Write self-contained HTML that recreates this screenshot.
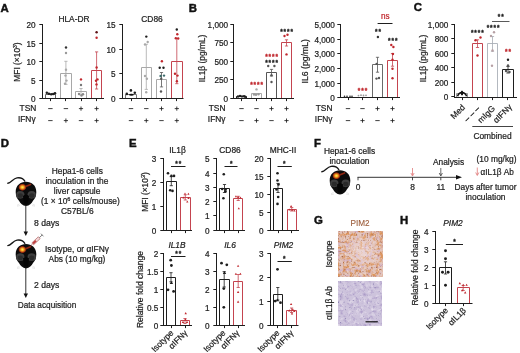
<!DOCTYPE html><html><head><meta charset="utf-8"><style>html,body{margin:0;padding:0;background:#fff;overflow:hidden;}svg{display:block;}#w{width:520px;height:353px;}</style></head><body><div id="w"><svg width="520" height="353" viewBox="0 0 520 353" font-family='"Liberation Sans", "DejaVu Sans", sans-serif' fill="#1e1e1e">
<defs><radialGradient id="spot" cx="0.5" cy="0.5" r="0.5"><stop offset="0" stop-color="#ffe858"/><stop offset="0.25" stop-color="#fcc430"/><stop offset="0.5" stop-color="#e07a1a"/><stop offset="0.8" stop-color="#8a200c"/><stop offset="1" stop-color="#300805" stop-opacity="0"/></radialGradient><filter id="ihc1" x="0" y="0" width="1" height="1" color-interpolation-filters="sRGB"><feFlood flood-color="#e2c4bc" result="base"/><feTurbulence type="fractalNoise" baseFrequency="0.3" numOctaves="3" seed="3" result="n1"/><feColorMatrix in="n1" type="matrix" values="0 0 0 0 0.86  0 0 0 0 0.58  0 0 0 0 0.36  3.4 0 0 0 -1.5" result="brown"/><feTurbulence type="fractalNoise" baseFrequency="0.22" numOctaves="2" seed="11" result="n2"/><feColorMatrix in="n2" type="matrix" values="0 0 0 0 0.80  0 0 0 0 0.67  0 0 0 0 0.80  3.2 0 0 0 -1.6" result="lav"/><feTurbulence type="fractalNoise" baseFrequency="0.55" numOctaves="1" seed="5" result="n3"/><feColorMatrix in="n3" type="matrix" values="0 0 0 0 0.64  0 0 0 0 0.38  0 0 0 0 0.26  5 0 0 0 -3.0" result="dark"/><feTurbulence type="fractalNoise" baseFrequency="0.45" numOctaves="1" seed="17" result="n4"/><feColorMatrix in="n4" type="matrix" values="0 0 0 0 0.95  0 0 0 0 0.85  0 0 0 0 0.80  5 0 0 0 -3.0" result="light"/><feMerge><feMergeNode in="base"/><feMergeNode in="lav"/><feMergeNode in="brown"/><feMergeNode in="light"/><feMergeNode in="dark"/></feMerge></filter><filter id="ihc2" x="0" y="0" width="1" height="1" color-interpolation-filters="sRGB"><feFlood flood-color="#cdc3dc" result="base"/><feTurbulence type="fractalNoise" baseFrequency="0.3" numOctaves="3" seed="7" result="n1"/><feColorMatrix in="n1" type="matrix" values="0 0 0 0 0.70  0 0 0 0 0.64  0 0 0 0 0.80  3 0 0 0 -1.5" result="d"/><feTurbulence type="fractalNoise" baseFrequency="0.25" numOctaves="2" seed="21" result="n2"/><feColorMatrix in="n2" type="matrix" values="0 0 0 0 0.89  0 0 0 0 0.86  0 0 0 0 0.92  3 0 0 0 -1.45" result="l"/><feTurbulence type="fractalNoise" baseFrequency="0.55" numOctaves="1" seed="9" result="n3"/><feColorMatrix in="n3" type="matrix" values="0 0 0 0 0.52  0 0 0 0 0.48  0 0 0 0 0.68  5 0 0 0 -3.2" result="k"/><feMerge><feMergeNode in="base"/><feMergeNode in="l"/><feMergeNode in="d"/><feMergeNode in="k"/></feMerge></filter><radialGradient id="pale" cx="0.55" cy="0.45" r="0.45"><stop offset="0" stop-color="#f4e6ea" stop-opacity="0.55"/><stop offset="1" stop-color="#f4e6ea" stop-opacity="0"/></radialGradient></defs>
<rect width="520" height="353" fill="#fff"/>
<text x="0.6" y="12.0" font-size="11.4" stroke="#111" stroke-width="0.45" fill="#111" font-weight="bold">A</text>
<text x="188.8" y="12.2" font-size="11.4" stroke="#111" stroke-width="0.45" fill="#111" font-weight="bold">B</text>
<text x="413.8" y="11.4" font-size="11.4" stroke="#111" stroke-width="0.45" fill="#111" font-weight="bold">C</text>
<text x="0.8" y="146.8" font-size="11.4" stroke="#111" stroke-width="0.45" fill="#111" font-weight="bold">D</text>
<text x="129" y="147" font-size="11.4" stroke="#111" stroke-width="0.45" fill="#111" font-weight="bold">E</text>
<text x="314" y="147" font-size="11.4" stroke="#111" stroke-width="0.45" fill="#111" font-weight="bold">F</text>
<text x="314" y="224.2" font-size="11.4" stroke="#111" stroke-width="0.45" fill="#111" font-weight="bold">G</text>
<text x="400" y="224.2" font-size="11.4" stroke="#111" stroke-width="0.45" fill="#111" font-weight="bold">H</text>
<text x="74" y="21.6" font-size="8.4" stroke="#1e1e1e" stroke-width="0.22" text-anchor="middle">HLA-DR</text>
<line x1="42.5" y1="24.0" x2="42.5" y2="98.5" stroke="#1e1e1e" stroke-width="1.0"/>
<line x1="39.3" y1="24.5" x2="42.5" y2="24.5" stroke="#1e1e1e" stroke-width="1.0"/>
<text x="35.5" y="28.151999999999997" font-size="8.2" stroke="#1e1e1e" stroke-width="0.22" text-anchor="end">20</text>
<line x1="39.3" y1="43.5" x2="42.5" y2="43.5" stroke="#1e1e1e" stroke-width="1.0"/>
<text x="35.5" y="47.152" font-size="8.2" stroke="#1e1e1e" stroke-width="0.22" text-anchor="end">15</text>
<line x1="39.3" y1="61.5" x2="42.5" y2="61.5" stroke="#1e1e1e" stroke-width="1.0"/>
<text x="35.5" y="65.152" font-size="8.2" stroke="#1e1e1e" stroke-width="0.22" text-anchor="end">10</text>
<line x1="39.3" y1="80.5" x2="42.5" y2="80.5" stroke="#1e1e1e" stroke-width="1.0"/>
<text x="35.5" y="84.152" font-size="8.2" stroke="#1e1e1e" stroke-width="0.22" text-anchor="end">5</text>
<line x1="39.3" y1="98.5" x2="42.5" y2="98.5" stroke="#1e1e1e" stroke-width="1.0"/>
<text x="35.5" y="102.152" font-size="8.2" stroke="#1e1e1e" stroke-width="0.22" text-anchor="end">0</text>
<line x1="42.0" y1="98.5" x2="104" y2="98.5" stroke="#1e1e1e" stroke-width="1.0"/>
<line x1="50.5" y1="98.5" x2="50.5" y2="101.1" stroke="#1e1e1e" stroke-width="1.0"/>
<line x1="65.5" y1="98.5" x2="65.5" y2="101.1" stroke="#1e1e1e" stroke-width="1.0"/>
<line x1="81.5" y1="98.5" x2="81.5" y2="101.1" stroke="#1e1e1e" stroke-width="1.0"/>
<line x1="96.5" y1="98.5" x2="96.5" y2="101.1" stroke="#1e1e1e" stroke-width="1.0"/>
<text x="20.2" y="62" font-size="8.4" stroke="#1e1e1e" stroke-width="0.22" text-anchor="middle" transform="rotate(-90 20.2 62)">MFI (×10<tspan font-size="5" dy="-3">3</tspan><tspan dy="3">)</tspan></text>
<rect x="45.5" y="94.5" width="10.0" height="3.5" fill="#fff"/>
<path d="M45.5 98.0V94.5H55.5V98.0" fill="none" stroke="#666" stroke-width="1.0"/>
<circle cx="46.8" cy="92.8" r="1.25" fill="#1e1e1e"/>
<circle cx="48.9" cy="93.7" r="1.25" fill="#1e1e1e"/>
<circle cx="51.2" cy="94.3" r="1.25" fill="#1e1e1e"/>
<circle cx="53.2" cy="94.1" r="1.25" fill="#1e1e1e"/>
<circle cx="55.0" cy="93.2" r="1.25" fill="#1e1e1e"/>
<rect x="60.5" y="73.5" width="11.0" height="24.5" fill="#fff"/>
<path d="M60.5 98.0V73.5H71.5V98.0" fill="none" stroke="#a8a8a8" stroke-width="1.0"/>
<line x1="65.9" y1="61.3" x2="65.9" y2="84.4" stroke="#a8a8a8" stroke-width="0.8"/>
<line x1="64.30000000000001" y1="61.3" x2="67.5" y2="61.3" stroke="#a8a8a8" stroke-width="0.8"/>
<line x1="64.30000000000001" y1="84.4" x2="67.5" y2="84.4" stroke="#a8a8a8" stroke-width="0.8"/>
<circle cx="66" cy="47.5" r="1.2" fill="#333"/>
<circle cx="66" cy="53" r="1.2" fill="#999"/>
<circle cx="66" cy="69.8" r="1.2" fill="#a8a8a8"/>
<circle cx="65.5" cy="75.6" r="1.2" fill="#a8a8a8"/>
<circle cx="66.5" cy="80.6" r="1.2" fill="#a8a8a8"/>
<circle cx="65" cy="83.8" r="1.2" fill="#a8a8a8"/>
<rect x="75.5" y="91.5" width="11.0" height="6.5" fill="#fff"/>
<path d="M75.5 98.0V91.5H86.5V98.0" fill="none" stroke="#a8a8a8" stroke-width="1.0"/>
<line x1="81" y1="88.5" x2="81" y2="95" stroke="#a8a8a8" stroke-width="0.8"/>
<line x1="79.4" y1="88.5" x2="82.6" y2="88.5" stroke="#a8a8a8" stroke-width="0.8"/>
<line x1="79.4" y1="95" x2="82.6" y2="95" stroke="#a8a8a8" stroke-width="0.8"/>
<circle cx="81" cy="79.4" r="1.2" fill="#c0272d"/>
<circle cx="81" cy="85" r="1.2" fill="#777"/>
<circle cx="79" cy="94" r="1.2" fill="#888"/>
<circle cx="81.5" cy="95.5" r="1.2" fill="#888"/>
<circle cx="83" cy="94.3" r="1.2" fill="#888"/>
<rect x="91.5" y="70.5" width="10.0" height="27.5" fill="#fff"/>
<path d="M91.5 98.0V70.5H101.5V98.0" fill="none" stroke="#c4444f" stroke-width="1.0"/>
<line x1="96.6" y1="51.9" x2="96.6" y2="89" stroke="#c4444f" stroke-width="0.8"/>
<line x1="95.0" y1="51.9" x2="98.19999999999999" y2="51.9" stroke="#c4444f" stroke-width="0.8"/>
<line x1="95.0" y1="89" x2="98.19999999999999" y2="89" stroke="#c4444f" stroke-width="0.8"/>
<circle cx="96.6" cy="32.3" r="1.2" fill="#5a1014"/>
<circle cx="96.6" cy="37.8" r="1.2" fill="#c0272d"/>
<circle cx="96.6" cy="67.5" r="1.2" fill="#c0272d"/>
<circle cx="97.5" cy="79.4" r="1.2" fill="#c0272d"/>
<circle cx="96" cy="80.8" r="1.2" fill="#c0272d"/>
<circle cx="96.5" cy="84.4" r="1.2" fill="#c0272d"/>
<text x="152" y="21.6" font-size="8.4" stroke="#1e1e1e" stroke-width="0.22" text-anchor="middle">CD86</text>
<line x1="122.5" y1="24.0" x2="122.5" y2="98.5" stroke="#1e1e1e" stroke-width="1.0"/>
<line x1="119.3" y1="24.5" x2="122.5" y2="24.5" stroke="#1e1e1e" stroke-width="1.0"/>
<text x="115.5" y="28.151999999999997" font-size="8.2" stroke="#1e1e1e" stroke-width="0.22" text-anchor="end">15</text>
<line x1="119.3" y1="49.5" x2="122.5" y2="49.5" stroke="#1e1e1e" stroke-width="1.0"/>
<text x="115.5" y="53.152" font-size="8.2" stroke="#1e1e1e" stroke-width="0.22" text-anchor="end">10</text>
<line x1="119.3" y1="73.5" x2="122.5" y2="73.5" stroke="#1e1e1e" stroke-width="1.0"/>
<text x="115.5" y="77.152" font-size="8.2" stroke="#1e1e1e" stroke-width="0.22" text-anchor="end">5</text>
<line x1="119.3" y1="98.5" x2="122.5" y2="98.5" stroke="#1e1e1e" stroke-width="1.0"/>
<text x="115.5" y="102.152" font-size="8.2" stroke="#1e1e1e" stroke-width="0.22" text-anchor="end">0</text>
<line x1="122.0" y1="98.5" x2="183.5" y2="98.5" stroke="#1e1e1e" stroke-width="1.0"/>
<line x1="131.5" y1="98.5" x2="131.5" y2="101.1" stroke="#1e1e1e" stroke-width="1.0"/>
<line x1="146.5" y1="98.5" x2="146.5" y2="101.1" stroke="#1e1e1e" stroke-width="1.0"/>
<line x1="161.5" y1="98.5" x2="161.5" y2="101.1" stroke="#1e1e1e" stroke-width="1.0"/>
<line x1="176.5" y1="98.5" x2="176.5" y2="101.1" stroke="#1e1e1e" stroke-width="1.0"/>
<rect x="125.5" y="94.5" width="11.0" height="3.5" fill="#fff"/>
<path d="M125.5 98.0V94.5H136.5V98.0" fill="none" stroke="#777" stroke-width="1.0"/>
<circle cx="130.9" cy="90.4" r="1.3" fill="#1e1e1e"/>
<circle cx="126.8" cy="93.9" r="1.3" fill="#1e1e1e"/>
<circle cx="134.8" cy="92.7" r="1.3" fill="#1e1e1e"/>
<ellipse cx="131.4" cy="94.8" rx="2.4" ry="1.0" fill="#111"/>
<rect x="141.5" y="67.5" width="10.0" height="30.5" fill="#fff"/>
<path d="M141.5 98.0V67.5H151.5V98.0" fill="none" stroke="#a8a8a8" stroke-width="1.0"/>
<line x1="146.3" y1="44.3" x2="146.3" y2="89.4" stroke="#a8a8a8" stroke-width="0.8"/>
<line x1="144.70000000000002" y1="44.3" x2="147.9" y2="44.3" stroke="#a8a8a8" stroke-width="0.8"/>
<line x1="144.70000000000002" y1="89.4" x2="147.9" y2="89.4" stroke="#a8a8a8" stroke-width="0.8"/>
<circle cx="146.3" cy="36.6" r="1.2" fill="#1e1e1e"/>
<circle cx="147.7" cy="42" r="1.2" fill="#a8a8a8"/>
<circle cx="145" cy="44.5" r="1.2" fill="#a8a8a8"/>
<circle cx="145" cy="76" r="1.2" fill="#a8a8a8"/>
<circle cx="146.9" cy="78.7" r="1.2" fill="#a8a8a8"/>
<circle cx="146.2" cy="92.2" r="1.2" fill="#a8a8a8"/>
<rect x="156.5" y="79.5" width="10.0" height="18.5" fill="#fff"/>
<path d="M156.5 98.0V79.5H166.5V98.0" fill="none" stroke="#a8a8a8" stroke-width="1.0"/>
<line x1="161.5" y1="72.5" x2="161.5" y2="86.9" stroke="#555555" stroke-width="0.8"/>
<line x1="159.9" y1="72.5" x2="163.1" y2="72.5" stroke="#555555" stroke-width="0.8"/>
<line x1="159.9" y1="86.9" x2="163.1" y2="86.9" stroke="#555555" stroke-width="0.8"/>
<circle cx="161.9" cy="61.3" r="1.2" fill="#c0272d"/>
<circle cx="159.7" cy="67.7" r="1.2" fill="#1e1e1e"/>
<circle cx="163.5" cy="67.7" r="1.2" fill="#1e1e1e"/>
<circle cx="160.6" cy="76" r="1.2" fill="#3a6a6a"/>
<circle cx="164" cy="75.6" r="1.2" fill="#3a6a6a"/>
<circle cx="161.2" cy="78.7" r="1.2" fill="#555555"/>
<circle cx="161" cy="91.5" r="1.2" fill="#555555"/>
<rect x="171.5" y="61.5" width="11.0" height="36.5" fill="#fff"/>
<path d="M171.5 98.0V61.5H182.5V98.0" fill="none" stroke="#c4444f" stroke-width="1.0"/>
<line x1="176.8" y1="38.3" x2="176.8" y2="83.7" stroke="#c4444f" stroke-width="0.8"/>
<line x1="175.20000000000002" y1="38.3" x2="178.4" y2="38.3" stroke="#c4444f" stroke-width="0.8"/>
<line x1="175.20000000000002" y1="83.7" x2="178.4" y2="83.7" stroke="#c4444f" stroke-width="0.8"/>
<circle cx="176.8" cy="29.5" r="1.2" fill="#1e1e1e"/>
<circle cx="177.3" cy="34.2" r="1.2" fill="#c0272d"/>
<circle cx="175.8" cy="38.2" r="1.2" fill="#c0272d"/>
<circle cx="178.2" cy="38.5" r="1.2" fill="#c0272d"/>
<circle cx="175" cy="73.7" r="1.2" fill="#c0272d"/>
<circle cx="177.5" cy="75.6" r="1.2" fill="#c0272d"/>
<circle cx="176.9" cy="81.2" r="1.2" fill="#c0272d"/>
<text x="19.6" y="111" font-size="8.4" stroke="#1e1e1e" stroke-width="0.22">TSN</text>
<text x="17.9" y="121.8" font-size="8.4" stroke="#1e1e1e" stroke-width="0.22">IFNγ</text>
<line x1="48.199999999999996" y1="108.6" x2="52.6" y2="108.6" stroke="#1e1e1e" stroke-width="0.85"/>
<line x1="63.7" y1="108.6" x2="68.10000000000001" y2="108.6" stroke="#1e1e1e" stroke-width="0.85"/>
<line x1="78.9" y1="108.6" x2="83.1" y2="108.6" stroke="#1e1e1e" stroke-width="0.85"/>
<line x1="81" y1="106.5" x2="81" y2="110.69999999999999" stroke="#1e1e1e" stroke-width="0.85"/>
<line x1="94.5" y1="108.6" x2="98.69999999999999" y2="108.6" stroke="#1e1e1e" stroke-width="0.85"/>
<line x1="96.6" y1="106.5" x2="96.6" y2="110.69999999999999" stroke="#1e1e1e" stroke-width="0.85"/>
<line x1="48.199999999999996" y1="120.6" x2="52.6" y2="120.6" stroke="#1e1e1e" stroke-width="0.85"/>
<line x1="63.800000000000004" y1="120.6" x2="68.0" y2="120.6" stroke="#1e1e1e" stroke-width="0.85"/>
<line x1="65.9" y1="118.5" x2="65.9" y2="122.69999999999999" stroke="#1e1e1e" stroke-width="0.85"/>
<line x1="78.8" y1="120.6" x2="83.2" y2="120.6" stroke="#1e1e1e" stroke-width="0.85"/>
<line x1="94.5" y1="120.6" x2="98.69999999999999" y2="120.6" stroke="#1e1e1e" stroke-width="0.85"/>
<line x1="96.6" y1="118.5" x2="96.6" y2="122.69999999999999" stroke="#1e1e1e" stroke-width="0.85"/>
<line x1="128.8" y1="108.6" x2="133.2" y2="108.6" stroke="#1e1e1e" stroke-width="0.85"/>
<line x1="144.10000000000002" y1="108.6" x2="148.5" y2="108.6" stroke="#1e1e1e" stroke-width="0.85"/>
<line x1="159.4" y1="108.6" x2="163.6" y2="108.6" stroke="#1e1e1e" stroke-width="0.85"/>
<line x1="161.5" y1="106.5" x2="161.5" y2="110.69999999999999" stroke="#1e1e1e" stroke-width="0.85"/>
<line x1="174.70000000000002" y1="108.6" x2="178.9" y2="108.6" stroke="#1e1e1e" stroke-width="0.85"/>
<line x1="176.8" y1="106.5" x2="176.8" y2="110.69999999999999" stroke="#1e1e1e" stroke-width="0.85"/>
<line x1="128.8" y1="120.6" x2="133.2" y2="120.6" stroke="#1e1e1e" stroke-width="0.85"/>
<line x1="144.20000000000002" y1="120.6" x2="148.4" y2="120.6" stroke="#1e1e1e" stroke-width="0.85"/>
<line x1="146.3" y1="118.5" x2="146.3" y2="122.69999999999999" stroke="#1e1e1e" stroke-width="0.85"/>
<line x1="159.3" y1="120.6" x2="163.7" y2="120.6" stroke="#1e1e1e" stroke-width="0.85"/>
<line x1="174.70000000000002" y1="120.6" x2="178.9" y2="120.6" stroke="#1e1e1e" stroke-width="0.85"/>
<line x1="176.8" y1="118.5" x2="176.8" y2="122.69999999999999" stroke="#1e1e1e" stroke-width="0.85"/>
<text x="205.2" y="58.5" font-size="8.4" stroke="#1e1e1e" stroke-width="0.22" text-anchor="middle" transform="rotate(-90 205.2 58.5)">IL1β (pg/mL)</text>
<line x1="233.5" y1="24.0" x2="233.5" y2="98.5" stroke="#1e1e1e" stroke-width="1.0"/>
<line x1="230.3" y1="24.5" x2="233.5" y2="24.5" stroke="#1e1e1e" stroke-width="1.0"/>
<text x="228.1" y="28.151999999999997" font-size="8.2" stroke="#1e1e1e" stroke-width="0.22" text-anchor="end">1,000</text>
<line x1="230.3" y1="42.5" x2="233.5" y2="42.5" stroke="#1e1e1e" stroke-width="1.0"/>
<text x="228.1" y="46.152" font-size="8.2" stroke="#1e1e1e" stroke-width="0.22" text-anchor="end">750</text>
<line x1="230.3" y1="61.5" x2="233.5" y2="61.5" stroke="#1e1e1e" stroke-width="1.0"/>
<text x="228.1" y="65.152" font-size="8.2" stroke="#1e1e1e" stroke-width="0.22" text-anchor="end">500</text>
<line x1="230.3" y1="79.5" x2="233.5" y2="79.5" stroke="#1e1e1e" stroke-width="1.0"/>
<text x="228.1" y="83.152" font-size="8.2" stroke="#1e1e1e" stroke-width="0.22" text-anchor="end">250</text>
<line x1="230.3" y1="98.5" x2="233.5" y2="98.5" stroke="#1e1e1e" stroke-width="1.0"/>
<text x="228.1" y="102.152" font-size="8.2" stroke="#1e1e1e" stroke-width="0.22" text-anchor="end">0</text>
<line x1="233.0" y1="98.5" x2="294" y2="98.5" stroke="#1e1e1e" stroke-width="1.0"/>
<line x1="241.5" y1="98.5" x2="241.5" y2="101.1" stroke="#1e1e1e" stroke-width="1.0"/>
<line x1="256.5" y1="98.5" x2="256.5" y2="101.1" stroke="#1e1e1e" stroke-width="1.0"/>
<line x1="271.5" y1="98.5" x2="271.5" y2="101.1" stroke="#1e1e1e" stroke-width="1.0"/>
<line x1="286.5" y1="98.5" x2="286.5" y2="101.1" stroke="#1e1e1e" stroke-width="1.0"/>
<rect x="236.5" y="96.5" width="10.0" height="1.5" fill="#fff"/>
<path d="M236.5 98.0V96.5H246.5V98.0" fill="none" stroke="#1e1e1e" stroke-width="1.0"/>
<circle cx="238" cy="96.5" r="1.2" fill="#1e1e1e"/>
<circle cx="240" cy="96" r="1.2" fill="#1e1e1e"/>
<circle cx="242" cy="96.4" r="1.2" fill="#1e1e1e"/>
<circle cx="244" cy="96.2" r="1.2" fill="#1e1e1e"/>
<circle cx="245.2" cy="96.8" r="1.2" fill="#1e1e1e"/>
<rect x="251.5" y="93.5" width="10.0" height="4.5" fill="#fff"/>
<path d="M251.5 98.0V93.5H261.5V98.0" fill="none" stroke="#a8a8a8" stroke-width="1.0"/>
<circle cx="256.5" cy="89.4" r="1.2" fill="#a8a8a8"/>
<circle cx="254" cy="94.5" r="1.2" fill="#999"/>
<circle cx="256" cy="94.8" r="1.2" fill="#999"/>
<circle cx="258.5" cy="94.2" r="1.2" fill="#999"/>
<text x="257.0" y="87.312" font-size="6.4" stroke="#c0272d" stroke-width="0.3" text-anchor="middle" fill="#c0272d" font-weight="bold" letter-spacing="0.95">****</text>
<rect x="266.5" y="72.5" width="10.0" height="25.5" fill="#fff"/>
<path d="M266.5 98.0V72.5H276.5V98.0" fill="none" stroke="#555555" stroke-width="1.0"/>
<line x1="271.5" y1="69.4" x2="271.5" y2="76" stroke="#555555" stroke-width="0.8"/>
<line x1="269.9" y1="69.4" x2="273.1" y2="69.4" stroke="#555555" stroke-width="0.8"/>
<line x1="269.9" y1="76" x2="273.1" y2="76" stroke="#555555" stroke-width="0.8"/>
<circle cx="268.2" cy="66" r="1.2" fill="#555555"/>
<circle cx="274.4" cy="66" r="1.2" fill="#555555"/>
<circle cx="271.5" cy="75.3" r="1.2" fill="#555555"/>
<circle cx="271.5" cy="82" r="1.2" fill="#555555"/>
<text x="272.0" y="58.812" font-size="6.4" stroke="#c0272d" stroke-width="0.3" text-anchor="middle" fill="#c0272d" font-weight="bold" letter-spacing="0.95">****</text>
<text x="272.0" y="65.012" font-size="6.4" stroke="#1e1e1e" stroke-width="0.3" text-anchor="middle" font-weight="bold" letter-spacing="0.95">****</text>
<rect x="281.5" y="42.5" width="10.0" height="55.5" fill="#fff"/>
<path d="M281.5 98.0V42.5H291.5V98.0" fill="none" stroke="#c4444f" stroke-width="1.0"/>
<line x1="286.5" y1="39.8" x2="286.5" y2="46" stroke="#c4444f" stroke-width="0.8"/>
<line x1="284.9" y1="39.8" x2="288.1" y2="39.8" stroke="#c4444f" stroke-width="0.8"/>
<line x1="284.9" y1="46" x2="288.1" y2="46" stroke="#c4444f" stroke-width="0.8"/>
<circle cx="284.5" cy="36" r="1.2" fill="#c0272d"/>
<circle cx="287.5" cy="34.8" r="1.2" fill="#c0272d"/>
<circle cx="286.5" cy="54.4" r="1.2" fill="#c0272d"/>
<text x="287.0" y="33.712" font-size="6.4" stroke="#1e1e1e" stroke-width="0.3" text-anchor="middle" font-weight="bold" letter-spacing="0.95">****</text>
<text x="225.5" y="111" font-size="8.4" stroke="#1e1e1e" stroke-width="0.22" text-anchor="end">TSN</text>
<text x="225.5" y="121.8" font-size="8.4" stroke="#1e1e1e" stroke-width="0.22" text-anchor="end">IFNγ</text>
<line x1="239.3" y1="108.6" x2="243.7" y2="108.6" stroke="#1e1e1e" stroke-width="0.85"/>
<line x1="254.3" y1="108.6" x2="258.7" y2="108.6" stroke="#1e1e1e" stroke-width="0.85"/>
<line x1="269.4" y1="108.6" x2="273.6" y2="108.6" stroke="#1e1e1e" stroke-width="0.85"/>
<line x1="271.5" y1="106.5" x2="271.5" y2="110.69999999999999" stroke="#1e1e1e" stroke-width="0.85"/>
<line x1="284.4" y1="108.6" x2="288.6" y2="108.6" stroke="#1e1e1e" stroke-width="0.85"/>
<line x1="286.5" y1="106.5" x2="286.5" y2="110.69999999999999" stroke="#1e1e1e" stroke-width="0.85"/>
<line x1="239.3" y1="120.6" x2="243.7" y2="120.6" stroke="#1e1e1e" stroke-width="0.85"/>
<line x1="254.4" y1="120.6" x2="258.6" y2="120.6" stroke="#1e1e1e" stroke-width="0.85"/>
<line x1="256.5" y1="118.5" x2="256.5" y2="122.69999999999999" stroke="#1e1e1e" stroke-width="0.85"/>
<line x1="269.3" y1="120.6" x2="273.7" y2="120.6" stroke="#1e1e1e" stroke-width="0.85"/>
<line x1="284.4" y1="120.6" x2="288.6" y2="120.6" stroke="#1e1e1e" stroke-width="0.85"/>
<line x1="286.5" y1="118.5" x2="286.5" y2="122.69999999999999" stroke="#1e1e1e" stroke-width="0.85"/>
<text x="308.3" y="61.2" font-size="8.7" stroke="#1e1e1e" stroke-width="0.22" text-anchor="middle" transform="rotate(-90 308.3 61.2)">IL6 (pg/mL)</text>
<line x1="340.5" y1="24.0" x2="340.5" y2="97.5" stroke="#1e1e1e" stroke-width="1.0"/>
<line x1="337.3" y1="24.5" x2="340.5" y2="24.5" stroke="#1e1e1e" stroke-width="1.0"/>
<text x="334.9" y="28.151999999999997" font-size="8.2" stroke="#1e1e1e" stroke-width="0.22" text-anchor="end">5,000</text>
<line x1="337.3" y1="39.5" x2="340.5" y2="39.5" stroke="#1e1e1e" stroke-width="1.0"/>
<text x="334.9" y="43.152" font-size="8.2" stroke="#1e1e1e" stroke-width="0.22" text-anchor="end">4,000</text>
<line x1="337.3" y1="53.5" x2="340.5" y2="53.5" stroke="#1e1e1e" stroke-width="1.0"/>
<text x="334.9" y="57.152" font-size="8.2" stroke="#1e1e1e" stroke-width="0.22" text-anchor="end">3,000</text>
<line x1="337.3" y1="68.5" x2="340.5" y2="68.5" stroke="#1e1e1e" stroke-width="1.0"/>
<text x="334.9" y="72.152" font-size="8.2" stroke="#1e1e1e" stroke-width="0.22" text-anchor="end">2,000</text>
<line x1="337.3" y1="83.5" x2="340.5" y2="83.5" stroke="#1e1e1e" stroke-width="1.0"/>
<text x="334.9" y="87.152" font-size="8.2" stroke="#1e1e1e" stroke-width="0.22" text-anchor="end">1,000</text>
<line x1="337.3" y1="97.5" x2="340.5" y2="97.5" stroke="#1e1e1e" stroke-width="1.0"/>
<text x="334.9" y="101.152" font-size="8.2" stroke="#1e1e1e" stroke-width="0.22" text-anchor="end">0</text>
<line x1="340.0" y1="97.5" x2="400" y2="97.5" stroke="#1e1e1e" stroke-width="1.0"/>
<line x1="348.5" y1="97.5" x2="348.5" y2="100.1" stroke="#1e1e1e" stroke-width="1.0"/>
<line x1="362.5" y1="97.5" x2="362.5" y2="100.1" stroke="#1e1e1e" stroke-width="1.0"/>
<line x1="377.5" y1="97.5" x2="377.5" y2="100.1" stroke="#1e1e1e" stroke-width="1.0"/>
<line x1="392.5" y1="97.5" x2="392.5" y2="100.1" stroke="#1e1e1e" stroke-width="1.0"/>
<circle cx="344.5" cy="96.2" r="0.8" fill="#1e1e1e"/>
<circle cx="347" cy="96.3" r="0.8" fill="#1e1e1e"/>
<circle cx="350" cy="96.2" r="0.8" fill="#1e1e1e"/>
<circle cx="352" cy="96.3" r="0.8" fill="#1e1e1e"/>
<circle cx="358.5" cy="95.6" r="0.9" fill="#999"/>
<circle cx="361" cy="95.2" r="0.9" fill="#999"/>
<circle cx="363.5" cy="95.5" r="0.9" fill="#999"/>
<circle cx="366" cy="95.3" r="0.9" fill="#999"/>
<text x="363.0" y="93.312" font-size="6.4" stroke="#c0272d" stroke-width="0.3" text-anchor="middle" fill="#c0272d" font-weight="bold" letter-spacing="0.95">***</text>
<rect x="372.5" y="64.5" width="10.0" height="32.5" fill="#fff"/>
<path d="M372.5 97.0V64.5H382.5V97.0" fill="none" stroke="#6a6a6a" stroke-width="1.0"/>
<line x1="377.5" y1="57.3" x2="377.5" y2="72.2" stroke="#555" stroke-width="0.8"/>
<line x1="375.9" y1="57.3" x2="379.1" y2="57.3" stroke="#555" stroke-width="0.8"/>
<line x1="375.9" y1="72.2" x2="379.1" y2="72.2" stroke="#555" stroke-width="0.8"/>
<circle cx="377.9" cy="37" r="1.2" fill="#333"/>
<circle cx="376.6" cy="63.9" r="1.2" fill="#555555"/>
<circle cx="376.5" cy="78.6" r="1.2" fill="#555555"/>
<circle cx="379" cy="78" r="1.2" fill="#555555"/>
<text x="378.5" y="33.512" font-size="6.4" stroke="#1e1e1e" stroke-width="0.3" text-anchor="middle" font-weight="bold" letter-spacing="0.95">**</text>
<rect x="387.5" y="60.5" width="10.0" height="36.5" fill="#fff"/>
<path d="M387.5 97.0V60.5H397.5V97.0" fill="none" stroke="#c4444f" stroke-width="1.0"/>
<line x1="392.5" y1="53.5" x2="392.5" y2="66.2" stroke="#c4444f" stroke-width="0.8"/>
<line x1="390.9" y1="53.5" x2="394.1" y2="53.5" stroke="#c4444f" stroke-width="0.8"/>
<line x1="390.9" y1="66.2" x2="394.1" y2="66.2" stroke="#c4444f" stroke-width="0.8"/>
<circle cx="391.3" cy="45" r="1.2" fill="#c0272d"/>
<circle cx="393.4" cy="47" r="1.2" fill="#c0272d"/>
<circle cx="392.9" cy="54" r="1.2" fill="#c0272d"/>
<circle cx="392.5" cy="59.8" r="1.2" fill="#c0272d"/>
<circle cx="392.5" cy="68.8" r="1.2" fill="#c0272d"/>
<circle cx="392.5" cy="78.3" r="1.2" fill="#c0272d"/>
<text x="393.2" y="43.412000000000006" font-size="6.4" stroke="#1e1e1e" stroke-width="0.3" text-anchor="middle" font-weight="bold" letter-spacing="0.95">***</text>
<line x1="377.6" y1="23.5" x2="392.5" y2="23.5" stroke="#1e1e1e" stroke-width="1.0"/>
<text x="385.3" y="19.1" font-size="8.2" stroke="#c0272d" stroke-width="0.22" text-anchor="middle" fill="#c0272d">ns</text>
<text x="332.5" y="111" font-size="8.4" stroke="#1e1e1e" stroke-width="0.22" text-anchor="end">TSN</text>
<text x="332.5" y="121.8" font-size="8.4" stroke="#1e1e1e" stroke-width="0.22" text-anchor="end">IFNγ</text>
<line x1="345.8" y1="108.6" x2="350.2" y2="108.6" stroke="#1e1e1e" stroke-width="0.85"/>
<line x1="360.3" y1="108.6" x2="364.7" y2="108.6" stroke="#1e1e1e" stroke-width="0.85"/>
<line x1="375.4" y1="108.6" x2="379.6" y2="108.6" stroke="#1e1e1e" stroke-width="0.85"/>
<line x1="377.5" y1="106.5" x2="377.5" y2="110.69999999999999" stroke="#1e1e1e" stroke-width="0.85"/>
<line x1="390.4" y1="108.6" x2="394.6" y2="108.6" stroke="#1e1e1e" stroke-width="0.85"/>
<line x1="392.5" y1="106.5" x2="392.5" y2="110.69999999999999" stroke="#1e1e1e" stroke-width="0.85"/>
<line x1="345.8" y1="120.6" x2="350.2" y2="120.6" stroke="#1e1e1e" stroke-width="0.85"/>
<line x1="360.4" y1="120.6" x2="364.6" y2="120.6" stroke="#1e1e1e" stroke-width="0.85"/>
<line x1="362.5" y1="118.5" x2="362.5" y2="122.69999999999999" stroke="#1e1e1e" stroke-width="0.85"/>
<line x1="375.3" y1="120.6" x2="379.7" y2="120.6" stroke="#1e1e1e" stroke-width="0.85"/>
<line x1="390.4" y1="120.6" x2="394.6" y2="120.6" stroke="#1e1e1e" stroke-width="0.85"/>
<line x1="392.5" y1="118.5" x2="392.5" y2="122.69999999999999" stroke="#1e1e1e" stroke-width="0.85"/>
<text x="425.5" y="58.5" font-size="8.4" stroke="#1e1e1e" stroke-width="0.22" text-anchor="middle" transform="rotate(-90 425.5 58.5)">IL1β (pg/mL)</text>
<line x1="454.5" y1="24.0" x2="454.5" y2="97.5" stroke="#1e1e1e" stroke-width="1.0"/>
<line x1="451.3" y1="24.5" x2="454.5" y2="24.5" stroke="#1e1e1e" stroke-width="1.0"/>
<text x="448.3" y="28.151999999999997" font-size="8.2" stroke="#1e1e1e" stroke-width="0.22" text-anchor="end">1,000</text>
<line x1="451.3" y1="38.5" x2="454.5" y2="38.5" stroke="#1e1e1e" stroke-width="1.0"/>
<text x="448.3" y="42.152" font-size="8.2" stroke="#1e1e1e" stroke-width="0.22" text-anchor="end">800</text>
<line x1="451.3" y1="53.5" x2="454.5" y2="53.5" stroke="#1e1e1e" stroke-width="1.0"/>
<text x="448.3" y="57.152" font-size="8.2" stroke="#1e1e1e" stroke-width="0.22" text-anchor="end">600</text>
<line x1="451.3" y1="67.5" x2="454.5" y2="67.5" stroke="#1e1e1e" stroke-width="1.0"/>
<text x="448.3" y="71.152" font-size="8.2" stroke="#1e1e1e" stroke-width="0.22" text-anchor="end">400</text>
<line x1="451.3" y1="82.5" x2="454.5" y2="82.5" stroke="#1e1e1e" stroke-width="1.0"/>
<text x="448.3" y="86.152" font-size="8.2" stroke="#1e1e1e" stroke-width="0.22" text-anchor="end">200</text>
<line x1="451.3" y1="96.5" x2="454.5" y2="96.5" stroke="#1e1e1e" stroke-width="1.0"/>
<text x="448.3" y="100.152" font-size="8.2" stroke="#1e1e1e" stroke-width="0.22" text-anchor="end">0</text>
<line x1="454.0" y1="97.5" x2="517" y2="97.5" stroke="#1e1e1e" stroke-width="1.0"/>
<line x1="462.5" y1="97.5" x2="462.5" y2="100.1" stroke="#1e1e1e" stroke-width="1.0"/>
<line x1="477.5" y1="97.5" x2="477.5" y2="100.1" stroke="#1e1e1e" stroke-width="1.0"/>
<line x1="492.5" y1="97.5" x2="492.5" y2="100.1" stroke="#1e1e1e" stroke-width="1.0"/>
<line x1="507.5" y1="97.5" x2="507.5" y2="100.1" stroke="#1e1e1e" stroke-width="1.0"/>
<rect x="456.5" y="93.5" width="11.0" height="3.5" fill="#fff"/>
<path d="M456.5 97.0V93.5H467.5V97.0" fill="none" stroke="#999" stroke-width="1.0"/>
<path d="M457.6 96.3 Q458.5 92.6 462 92.4 Q465.5 92.6 466.6 96.3" fill="none" stroke="#111" stroke-width="1.5"/>
<ellipse cx="462" cy="93" rx="1.2" ry="2.6" fill="#111"/>
<rect x="472.5" y="43.5" width="10.0" height="53.5" fill="#fff"/>
<path d="M472.5 97.0V43.5H482.5V97.0" fill="none" stroke="#c4444f" stroke-width="1.0"/>
<line x1="477.5" y1="39.8" x2="477.5" y2="47.5" stroke="#c4444f" stroke-width="0.8"/>
<line x1="475.9" y1="39.8" x2="479.1" y2="39.8" stroke="#c4444f" stroke-width="0.8"/>
<line x1="475.9" y1="47.5" x2="479.1" y2="47.5" stroke="#c4444f" stroke-width="0.8"/>
<circle cx="475.5" cy="40.2" r="1.2" fill="#c0272d"/>
<circle cx="480.5" cy="37.5" r="1.2" fill="#c0272d"/>
<circle cx="477.5" cy="55.5" r="1.2" fill="#c0272d"/>
<text x="477.8" y="35.312" font-size="6.4" stroke="#1e1e1e" stroke-width="0.3" text-anchor="middle" font-weight="bold" letter-spacing="0.95">****</text>
<rect x="487.5" y="43.5" width="10.0" height="53.5" fill="#fff"/>
<path d="M487.5 97.0V43.5H497.5V97.0" fill="none" stroke="#b3b8bf" stroke-width="1.0"/>
<line x1="492.5" y1="36.5" x2="492.5" y2="51.3" stroke="#a6abb2" stroke-width="0.8"/>
<line x1="490.9" y1="36.5" x2="494.1" y2="36.5" stroke="#a6abb2" stroke-width="0.8"/>
<line x1="490.9" y1="51.3" x2="494.1" y2="51.3" stroke="#a6abb2" stroke-width="0.8"/>
<circle cx="494" cy="32.2" r="1.2" fill="#b6a0a4"/>
<circle cx="491" cy="36" r="1.2" fill="#b6a0a4"/>
<circle cx="492.5" cy="50.5" r="1.2" fill="#b6a0a4"/>
<circle cx="492" cy="65.8" r="1.2" fill="#b6a0a4"/>
<text x="493.5" y="30.312" font-size="6.4" stroke="#1e1e1e" stroke-width="0.3" text-anchor="middle" font-weight="bold" letter-spacing="0.95">****</text>
<rect x="502.5" y="69.5" width="11.0" height="27.5" fill="#fff"/>
<path d="M502.5 97.0V69.5H513.5V97.0" fill="none" stroke="#1e1e1e" stroke-width="1.0"/>
<line x1="508" y1="66.5" x2="508" y2="73" stroke="#1e1e1e" stroke-width="0.8"/>
<line x1="506.4" y1="66.5" x2="509.6" y2="66.5" stroke="#1e1e1e" stroke-width="0.8"/>
<line x1="506.4" y1="73" x2="509.6" y2="73" stroke="#1e1e1e" stroke-width="0.8"/>
<circle cx="508" cy="59.8" r="1.2" fill="#1e1e1e"/>
<circle cx="508" cy="65.5" r="1.2" fill="#555"/>
<circle cx="506" cy="71" r="1.2" fill="#555"/>
<circle cx="509.5" cy="72" r="1.2" fill="#555"/>
<text x="508.5" y="53.712" font-size="6.4" stroke="#c0272d" stroke-width="0.3" text-anchor="middle" fill="#c0272d" font-weight="bold" letter-spacing="0.95">**</text>
<line x1="492" y1="21.5" x2="509.5" y2="21.5" stroke="#5a5a5a" stroke-width="1.0"/>
<text x="501.3" y="19.311999999999998" font-size="6.4" stroke="#1e1e1e" stroke-width="0.3" text-anchor="middle" font-weight="bold" letter-spacing="0.95">**</text>
<text x="465.6" y="108" font-size="8.4" stroke="#1e1e1e" stroke-width="0.22" text-anchor="end" transform="rotate(-45 465.6 108)">Med</text>
<text x="480.4" y="109.2" font-size="8.4" stroke="#1e1e1e" stroke-width="0.22" text-anchor="end" transform="rotate(-45 480.4 109.2)">– – –</text>
<text x="495.6" y="109" font-size="8.4" stroke="#1e1e1e" stroke-width="0.22" text-anchor="end" transform="rotate(-45 495.6 109)">mIgG</text>
<text x="512.4" y="107.6" font-size="8.4" stroke="#1e1e1e" stroke-width="0.22" text-anchor="end" transform="rotate(-45 512.4 107.6)">αIFNγ</text>
<line x1="472.3" y1="126.5" x2="513" y2="126.5" stroke="#444" stroke-width="1.0"/>
<text x="492.5" y="139" font-size="8.4" stroke="#1e1e1e" stroke-width="0.22" text-anchor="middle">Combined</text>
<g transform="translate(21.5 182) scale(1.0 1.07)"><path d="M-13.7 1.2 C-10.5 1.2 -8.5 -3.4 -4.5 -3.9 C-1.5 -4.3 1.5 -4 3.3 -0.8" fill="none" stroke="#151515" stroke-width="1.3" stroke-linecap="round"/><path d="M-5.8 9.5 C-6 3 -1 -0.3 4.5 -0.3 C10 -0.3 15 3 14.8 9.5 C14.8 13 13.5 15.5 11.5 17.5 C10 20 8 22.3 4.5 22.5 C1 22.3 -1 20 -2.5 17.5 C-4.5 15.5 -5.8 13 -5.8 9.5 Z" fill="#0c0c0c"/><ellipse cx="-1.2" cy="12" rx="4.2" ry="3.6" fill="#3e3e3e"/><ellipse cx="10.2" cy="12" rx="4.2" ry="3.6" fill="#3e3e3e"/><ellipse cx="-1.2" cy="12.6" rx="2.6" ry="2.2" fill="#2a2a2a"/><ellipse cx="10.2" cy="12.6" rx="2.6" ry="2.2" fill="#2a2a2a"/><path d="M1.5 13 Q4.5 11 7.5 13 L6.5 20 Q4.5 22 2.5 20 Z" fill="#050505"/><path d="M2 5 L9 2.3" stroke="#a52a12" stroke-width="1.6" stroke-linecap="round" opacity="0.85"/><ellipse cx="0.9" cy="4.9" rx="4.3" ry="3.6" fill="url(#spot)"/><path d="M-2 20.5 l-2.5 1.2 M11 20.5 l2.5 1.2 M-1.5 22 l-3 0.6 M10.5 22 l3 .6" stroke="#c8c8c8" stroke-width="0.4"/></g>
<text x="77.3" y="173.9" font-size="8.4" stroke="#1e1e1e" stroke-width="0.22" text-anchor="middle">Hepa1-6 cells</text>
<text x="76.9" y="183.85" font-size="8.4" stroke="#1e1e1e" stroke-width="0.22" text-anchor="middle">inoculation in the</text>
<text x="77.1" y="193.8" font-size="8.4" stroke="#1e1e1e" stroke-width="0.22" text-anchor="middle">liver capsule</text>
<text x="80.4" y="203.75" font-size="8.4" stroke="#1e1e1e" stroke-width="0.22" text-anchor="middle">(1 × 10<tspan font-size="5.6" dy="-3.2">6</tspan><tspan dy="3.2"> cells/mouse)</tspan></text>
<text x="77.3" y="213.7" font-size="8.4" stroke="#1e1e1e" stroke-width="0.22" text-anchor="middle">C57BL/6</text>
<line x1="25.8" y1="206" x2="25.8" y2="233.5" stroke="#1e1e1e" stroke-width="0.9"/>
<path d="M23.6 231.5 L28 231.5 L25.8 236 Z" fill="#111"/>
<text x="34" y="225.6" font-size="8.6" stroke="#1e1e1e" stroke-width="0.22">8 days</text>
<g transform="translate(21.5 244.3) scale(1.0 1.07)"><path d="M-13.7 1.2 C-10.5 1.2 -8.5 -3.4 -4.5 -3.9 C-1.5 -4.3 1.5 -4 3.3 -0.8" fill="none" stroke="#151515" stroke-width="1.3" stroke-linecap="round"/><path d="M-5.8 9.5 C-6 3 -1 -0.3 4.5 -0.3 C10 -0.3 15 3 14.8 9.5 C14.8 13 13.5 15.5 11.5 17.5 C10 20 8 22.3 4.5 22.5 C1 22.3 -1 20 -2.5 17.5 C-4.5 15.5 -5.8 13 -5.8 9.5 Z" fill="#0c0c0c"/><ellipse cx="-1.2" cy="12" rx="4.2" ry="3.6" fill="#3e3e3e"/><ellipse cx="10.2" cy="12" rx="4.2" ry="3.6" fill="#3e3e3e"/><ellipse cx="-1.2" cy="12.6" rx="2.6" ry="2.2" fill="#2a2a2a"/><ellipse cx="10.2" cy="12.6" rx="2.6" ry="2.2" fill="#2a2a2a"/><path d="M1.5 13 Q4.5 11 7.5 13 L6.5 20 Q4.5 22 2.5 20 Z" fill="#050505"/><path d="M2 5 L9 2.3" stroke="#a52a12" stroke-width="1.6" stroke-linecap="round" opacity="0.85"/><ellipse cx="0.9" cy="4.9" rx="4.3" ry="3.6" fill="url(#spot)"/><path d="M-2 20.5 l-2.5 1.2 M11 20.5 l2.5 1.2 M-1.5 22 l-3 0.6 M10.5 22 l3 .6" stroke="#c8c8c8" stroke-width="0.4"/></g>
<g transform="translate(30.5 245.9) rotate(-43)"><line x1="0" y1="0" x2="3" y2="0" stroke="#b03030" stroke-width="0.6"/><rect x="3" y="-1.3" width="9" height="2.6" fill="#f3d6d6" stroke="#9a3a3a" stroke-width="0.5"/><rect x="3.5" y="-1" width="4" height="2" fill="#c04040"/><line x1="12" y1="0" x2="16" y2="0" stroke="#777" stroke-width="0.9"/><line x1="16" y1="-1.8" x2="16" y2="1.8" stroke="#777" stroke-width="0.9"/></g>
<text x="77" y="252.3" font-size="8.4" stroke="#1e1e1e" stroke-width="0.22" text-anchor="middle">Isotype, or αIFNγ</text>
<text x="77" y="262" font-size="8.4" stroke="#1e1e1e" stroke-width="0.22" text-anchor="middle">Abs (10 mg/kg)</text>
<line x1="25.8" y1="268" x2="25.8" y2="295" stroke="#1e1e1e" stroke-width="0.9"/>
<path d="M23.6 293.5 L28 293.5 L25.8 298 Z" fill="#111"/>
<text x="34" y="287.6" font-size="8.6" stroke="#1e1e1e" stroke-width="0.22">2 days</text>
<text x="17.7" y="308" font-size="8.5" textLength="58.6" lengthAdjust="spacingAndGlyphs" stroke="#1e1e1e" stroke-width="0.22">Data acquisition</text>
<text x="148" y="192" font-size="8.4" stroke="#1e1e1e" stroke-width="0.22" text-anchor="middle" transform="rotate(-90 148 192)">MFI (×10<tspan font-size="5.6" dy="-3.2">3</tspan><tspan dy="3.2">)</tspan></text>
<text x="177.5" y="153" font-size="8.4" stroke="#1e1e1e" stroke-width="0.22" text-anchor="middle">IL1β</text>
<line x1="163.5" y1="158.0" x2="163.5" y2="230.5" stroke="#1e1e1e" stroke-width="1.0"/>
<line x1="160.3" y1="158.5" x2="163.5" y2="158.5" stroke="#1e1e1e" stroke-width="1.0"/>
<text x="156.2" y="162.152" font-size="8.2" stroke="#1e1e1e" stroke-width="0.22" text-anchor="end">3</text>
<line x1="160.3" y1="182.5" x2="163.5" y2="182.5" stroke="#1e1e1e" stroke-width="1.0"/>
<text x="156.2" y="186.152" font-size="8.2" stroke="#1e1e1e" stroke-width="0.22" text-anchor="end">2</text>
<line x1="160.3" y1="206.5" x2="163.5" y2="206.5" stroke="#1e1e1e" stroke-width="1.0"/>
<text x="156.2" y="210.152" font-size="8.2" stroke="#1e1e1e" stroke-width="0.22" text-anchor="end">1</text>
<line x1="160.3" y1="230.5" x2="163.5" y2="230.5" stroke="#1e1e1e" stroke-width="1.0"/>
<text x="156.2" y="234.152" font-size="8.2" stroke="#1e1e1e" stroke-width="0.22" text-anchor="end">0</text>
<line x1="163.0" y1="230.5" x2="192" y2="230.5" stroke="#1e1e1e" stroke-width="1.0"/>
<line x1="171.5" y1="230.5" x2="171.5" y2="233.1" stroke="#1e1e1e" stroke-width="1.0"/>
<line x1="185.5" y1="230.5" x2="185.5" y2="233.1" stroke="#1e1e1e" stroke-width="1.0"/>
<rect x="166.5" y="181.5" width="10.0" height="48.5" fill="#fff"/>
<path d="M166.5 230.0V181.5H176.5V230.0" fill="none" stroke="#1e1e1e" stroke-width="1.0"/>
<line x1="171.3" y1="176.6" x2="171.3" y2="185.7" stroke="#1e1e1e" stroke-width="0.8"/>
<line x1="169.70000000000002" y1="176.6" x2="172.9" y2="176.6" stroke="#1e1e1e" stroke-width="0.8"/>
<line x1="169.70000000000002" y1="185.7" x2="172.9" y2="185.7" stroke="#1e1e1e" stroke-width="0.8"/>
<circle cx="168" cy="173.2" r="1.3" fill="#1e1e1e"/>
<circle cx="171.4" cy="175.9" r="1.3" fill="#1e1e1e"/>
<circle cx="174" cy="175.9" r="1.3" fill="#1e1e1e"/>
<circle cx="170.2" cy="190.2" r="1.3" fill="#1e1e1e"/>
<circle cx="172.5" cy="190.9" r="1.3" fill="#1e1e1e"/>
<rect x="180.5" y="197.5" width="10.0" height="32.5" fill="#fff"/>
<path d="M180.5 230.0V197.5H190.5V230.0" fill="none" stroke="#c4444f" stroke-width="1.0"/>
<line x1="185.3" y1="194.8" x2="185.3" y2="200" stroke="#c4444f" stroke-width="0.8"/>
<line x1="183.70000000000002" y1="194.8" x2="186.9" y2="194.8" stroke="#c4444f" stroke-width="0.8"/>
<line x1="183.70000000000002" y1="200" x2="186.9" y2="200" stroke="#c4444f" stroke-width="0.8"/>
<path d="M185 192.5L186.1 194.48L183.9 194.48Z" fill="#c0272d"/>
<path d="M188.4 192.70000000000002L189.5 194.68L187.3 194.68Z" fill="#c0272d"/>
<path d="M187.3 200.5L188.4 202.48L186.20000000000002 202.48Z" fill="#c0272d"/>
<path d="M183.5 196.4L184.6 198.38L182.4 198.38Z" fill="#c0272d"/>
<path d="M188.5 197.1L189.6 199.07999999999998L187.4 199.07999999999998Z" fill="#c0272d"/>
<line x1="171" y1="166.5" x2="185.5" y2="166.5" stroke="#1e1e1e" stroke-width="1.0"/>
<text x="178.8" y="165.91199999999998" font-size="6.4" stroke="#1e1e1e" stroke-width="0.3" text-anchor="middle" font-weight="bold" letter-spacing="0.95">**</text>
<text x="230" y="153" font-size="8.4" stroke="#1e1e1e" stroke-width="0.22" text-anchor="middle">CD86</text>
<line x1="216.5" y1="158.0" x2="216.5" y2="230.5" stroke="#1e1e1e" stroke-width="1.0"/>
<line x1="213.3" y1="158.5" x2="216.5" y2="158.5" stroke="#1e1e1e" stroke-width="1.0"/>
<text x="209.5" y="162.152" font-size="8.2" stroke="#1e1e1e" stroke-width="0.22" text-anchor="end">5</text>
<line x1="213.3" y1="173.5" x2="216.5" y2="173.5" stroke="#1e1e1e" stroke-width="1.0"/>
<text x="209.5" y="177.152" font-size="8.2" stroke="#1e1e1e" stroke-width="0.22" text-anchor="end">4</text>
<line x1="213.3" y1="187.5" x2="216.5" y2="187.5" stroke="#1e1e1e" stroke-width="1.0"/>
<text x="209.5" y="191.152" font-size="8.2" stroke="#1e1e1e" stroke-width="0.22" text-anchor="end">3</text>
<line x1="213.3" y1="201.5" x2="216.5" y2="201.5" stroke="#1e1e1e" stroke-width="1.0"/>
<text x="209.5" y="205.152" font-size="8.2" stroke="#1e1e1e" stroke-width="0.22" text-anchor="end">2</text>
<line x1="213.3" y1="215.5" x2="216.5" y2="215.5" stroke="#1e1e1e" stroke-width="1.0"/>
<text x="209.5" y="219.152" font-size="8.2" stroke="#1e1e1e" stroke-width="0.22" text-anchor="end">1</text>
<line x1="213.3" y1="230.5" x2="216.5" y2="230.5" stroke="#1e1e1e" stroke-width="1.0"/>
<text x="209.5" y="234.152" font-size="8.2" stroke="#1e1e1e" stroke-width="0.22" text-anchor="end">0</text>
<line x1="216.0" y1="230.5" x2="245" y2="230.5" stroke="#1e1e1e" stroke-width="1.0"/>
<line x1="224.5" y1="230.5" x2="224.5" y2="233.1" stroke="#1e1e1e" stroke-width="1.0"/>
<line x1="238.5" y1="230.5" x2="238.5" y2="233.1" stroke="#1e1e1e" stroke-width="1.0"/>
<rect x="219.5" y="188.5" width="10.0" height="41.5" fill="#fff"/>
<path d="M219.5 230.0V188.5H229.5V230.0" fill="none" stroke="#1e1e1e" stroke-width="1.0"/>
<line x1="224.5" y1="184.5" x2="224.5" y2="192.5" stroke="#1e1e1e" stroke-width="0.8"/>
<line x1="222.9" y1="184.5" x2="226.1" y2="184.5" stroke="#1e1e1e" stroke-width="0.8"/>
<line x1="222.9" y1="192.5" x2="226.1" y2="192.5" stroke="#1e1e1e" stroke-width="0.8"/>
<circle cx="223.8" cy="174.3" r="1.3" fill="#1e1e1e"/>
<circle cx="222.2" cy="189" r="1.3" fill="#1e1e1e"/>
<circle cx="225.6" cy="189.5" r="1.3" fill="#1e1e1e"/>
<circle cx="225.5" cy="191.5" r="1.3" fill="#1e1e1e"/>
<circle cx="223.4" cy="198.2" r="1.3" fill="#1e1e1e"/>
<rect x="233.5" y="198.5" width="9.0" height="31.5" fill="#fff"/>
<path d="M233.5 230.0V198.5H242.5V230.0" fill="none" stroke="#c4444f" stroke-width="1.0"/>
<line x1="238.2" y1="196.3" x2="238.2" y2="200.5" stroke="#c4444f" stroke-width="0.8"/>
<line x1="236.6" y1="196.3" x2="239.79999999999998" y2="196.3" stroke="#c4444f" stroke-width="0.8"/>
<line x1="236.6" y1="200.5" x2="239.79999999999998" y2="200.5" stroke="#c4444f" stroke-width="0.8"/>
<path d="M235.9 195.3L237.0 197.28L234.8 197.28Z" fill="#c0272d"/>
<path d="M238.1 195.9L239.2 197.88L237.0 197.88Z" fill="#c0272d"/>
<path d="M240.4 196.6L241.5 198.57999999999998L239.3 198.57999999999998Z" fill="#c0272d"/>
<path d="M238.8 207.3L239.9 209.28L237.70000000000002 209.28Z" fill="#c0272d"/>
<line x1="224.5" y1="166.5" x2="237.5" y2="166.5" stroke="#1e1e1e" stroke-width="1.0"/>
<text x="231.8" y="165.512" font-size="6.4" stroke="#1e1e1e" stroke-width="0.3" text-anchor="middle" font-weight="bold" letter-spacing="0.95">*</text>
<text x="283" y="153" font-size="8.4" stroke="#1e1e1e" stroke-width="0.22" text-anchor="middle">MHC-II</text>
<line x1="270.5" y1="158.0" x2="270.5" y2="230.5" stroke="#1e1e1e" stroke-width="1.0"/>
<line x1="267.3" y1="158.5" x2="270.5" y2="158.5" stroke="#1e1e1e" stroke-width="1.0"/>
<text x="263.5" y="162.152" font-size="8.2" stroke="#1e1e1e" stroke-width="0.22" text-anchor="end">20</text>
<line x1="267.3" y1="176.5" x2="270.5" y2="176.5" stroke="#1e1e1e" stroke-width="1.0"/>
<text x="263.5" y="180.152" font-size="8.2" stroke="#1e1e1e" stroke-width="0.22" text-anchor="end">15</text>
<line x1="267.3" y1="194.5" x2="270.5" y2="194.5" stroke="#1e1e1e" stroke-width="1.0"/>
<text x="263.5" y="198.152" font-size="8.2" stroke="#1e1e1e" stroke-width="0.22" text-anchor="end">10</text>
<line x1="267.3" y1="212.5" x2="270.5" y2="212.5" stroke="#1e1e1e" stroke-width="1.0"/>
<text x="263.5" y="216.152" font-size="8.2" stroke="#1e1e1e" stroke-width="0.22" text-anchor="end">5</text>
<line x1="267.3" y1="230.5" x2="270.5" y2="230.5" stroke="#1e1e1e" stroke-width="1.0"/>
<text x="263.5" y="234.152" font-size="8.2" stroke="#1e1e1e" stroke-width="0.22" text-anchor="end">0</text>
<line x1="270.0" y1="230.5" x2="299" y2="230.5" stroke="#1e1e1e" stroke-width="1.0"/>
<line x1="278.5" y1="230.5" x2="278.5" y2="233.1" stroke="#1e1e1e" stroke-width="1.0"/>
<line x1="291.5" y1="230.5" x2="291.5" y2="233.1" stroke="#1e1e1e" stroke-width="1.0"/>
<rect x="273.5" y="188.5" width="9.0" height="41.5" fill="#fff"/>
<path d="M273.5 230.0V188.5H282.5V230.0" fill="none" stroke="#1e1e1e" stroke-width="1.0"/>
<line x1="278" y1="183.4" x2="278" y2="192.5" stroke="#1e1e1e" stroke-width="0.8"/>
<line x1="276.4" y1="183.4" x2="279.6" y2="183.4" stroke="#1e1e1e" stroke-width="0.8"/>
<line x1="276.4" y1="192.5" x2="279.6" y2="192.5" stroke="#1e1e1e" stroke-width="0.8"/>
<circle cx="277.5" cy="173.2" r="1.3" fill="#1e1e1e"/>
<circle cx="277.5" cy="180.5" r="1.3" fill="#1e1e1e"/>
<circle cx="278.5" cy="184.5" r="1.3" fill="#1e1e1e"/>
<circle cx="276.5" cy="189.5" r="1.3" fill="#1e1e1e"/>
<circle cx="278.2" cy="197" r="1.3" fill="#1e1e1e"/>
<circle cx="277.5" cy="203.9" r="1.3" fill="#1e1e1e"/>
<rect x="287.5" y="209.5" width="9.0" height="20.5" fill="#fff"/>
<path d="M287.5 230.0V209.5H296.5V230.0" fill="none" stroke="#c4444f" stroke-width="1.0"/>
<line x1="291.7" y1="207.5" x2="291.7" y2="211" stroke="#c4444f" stroke-width="0.8"/>
<line x1="290.09999999999997" y1="207.5" x2="293.3" y2="207.5" stroke="#c4444f" stroke-width="0.8"/>
<line x1="290.09999999999997" y1="211" x2="293.3" y2="211" stroke="#c4444f" stroke-width="0.8"/>
<path d="M291.1 205.0L292.20000000000005 206.98L290.0 206.98Z" fill="#c0272d"/>
<path d="M289.5 208.4L290.6 210.38L288.4 210.38Z" fill="#c0272d"/>
<path d="M292.5 208.70000000000002L293.6 210.68L291.4 210.68Z" fill="#c0272d"/>
<path d="M294.5 209.4L295.6 211.38L293.4 211.38Z" fill="#c0272d"/>
<line x1="277.5" y1="166.5" x2="291.8" y2="166.5" stroke="#1e1e1e" stroke-width="1.0"/>
<text x="284.8" y="165.512" font-size="6.4" stroke="#1e1e1e" stroke-width="0.3" text-anchor="middle" font-weight="bold" letter-spacing="0.95">*</text>
<text x="143" y="289.6" font-size="8.5" stroke="#1e1e1e" stroke-width="0.22" text-anchor="middle" transform="rotate(-90 143 289.6)">Relative fold change</text>
<text x="177" y="248" font-size="8.4" stroke="#1e1e1e" stroke-width="0.22" text-anchor="middle" font-style="italic">IL1B</text>
<line x1="163.5" y1="253.0" x2="163.5" y2="325.5" stroke="#1e1e1e" stroke-width="1.0"/>
<line x1="160.3" y1="253.5" x2="163.5" y2="253.5" stroke="#1e1e1e" stroke-width="1.0"/>
<text x="158.3" y="257.152" font-size="8.2" stroke="#1e1e1e" stroke-width="0.22" text-anchor="end">2</text>
<line x1="160.3" y1="271.5" x2="163.5" y2="271.5" stroke="#1e1e1e" stroke-width="1.0"/>
<text x="158.3" y="275.152" font-size="8.2" stroke="#1e1e1e" stroke-width="0.22" text-anchor="end">1.5</text>
<line x1="160.3" y1="289.5" x2="163.5" y2="289.5" stroke="#1e1e1e" stroke-width="1.0"/>
<text x="158.3" y="293.152" font-size="8.2" stroke="#1e1e1e" stroke-width="0.22" text-anchor="end">1</text>
<line x1="160.3" y1="307.5" x2="163.5" y2="307.5" stroke="#1e1e1e" stroke-width="1.0"/>
<text x="158.3" y="311.152" font-size="8.2" stroke="#1e1e1e" stroke-width="0.22" text-anchor="end">0.5</text>
<line x1="160.3" y1="325.5" x2="163.5" y2="325.5" stroke="#1e1e1e" stroke-width="1.0"/>
<text x="158.3" y="329.152" font-size="8.2" stroke="#1e1e1e" stroke-width="0.22" text-anchor="end">0</text>
<line x1="163.0" y1="325.5" x2="192" y2="325.5" stroke="#1e1e1e" stroke-width="1.0"/>
<line x1="171.5" y1="325.5" x2="171.5" y2="328.1" stroke="#1e1e1e" stroke-width="1.0"/>
<line x1="185.5" y1="325.5" x2="185.5" y2="328.1" stroke="#1e1e1e" stroke-width="1.0"/>
<rect x="166.5" y="277.5" width="9.0" height="47.5" fill="#fff"/>
<path d="M166.5 325.0V277.5H175.5V325.0" fill="none" stroke="#1e1e1e" stroke-width="1.0"/>
<line x1="171" y1="272.7" x2="171" y2="281.8" stroke="#1e1e1e" stroke-width="0.8"/>
<line x1="169.4" y1="272.7" x2="172.6" y2="272.7" stroke="#1e1e1e" stroke-width="0.8"/>
<line x1="169.4" y1="281.8" x2="172.6" y2="281.8" stroke="#1e1e1e" stroke-width="0.8"/>
<circle cx="170.7" cy="260.2" r="1.4" fill="#1e1e1e"/>
<circle cx="171.4" cy="265.5" r="1.4" fill="#1e1e1e"/>
<circle cx="168" cy="289.8" r="1.4" fill="#1e1e1e"/>
<circle cx="173.6" cy="291.4" r="1.4" fill="#1e1e1e"/>
<path d="M171.4 280.90000000000003L173.1 283.96000000000004L169.70000000000002 283.96000000000004Z" fill="#1e1e1e"/>
<rect x="180.5" y="320.5" width="9.0" height="4.5" fill="#fff"/>
<path d="M180.5 325.0V320.5H189.5V325.0" fill="none" stroke="#c4444f" stroke-width="1.0"/>
<line x1="185" y1="318.5" x2="185" y2="323.5" stroke="#c4444f" stroke-width="0.8"/>
<line x1="183.4" y1="318.5" x2="186.6" y2="318.5" stroke="#c4444f" stroke-width="0.8"/>
<line x1="183.4" y1="323.5" x2="186.6" y2="323.5" stroke="#c4444f" stroke-width="0.8"/>
<path d="M185.7 312.0L186.89999999999998 314.15999999999997L184.5 314.15999999999997Z" fill="#c0272d"/>
<path d="M183 320.8L184.2 322.96L181.8 322.96Z" fill="#c0272d"/>
<path d="M187 320.8L188.2 322.96L185.8 322.96Z" fill="#c0272d"/>
<path d="M185.5 318.3L186.7 320.46L184.3 320.46Z" fill="#c0272d"/>
<line x1="171" y1="256.5" x2="185.5" y2="256.5" stroke="#1e1e1e" stroke-width="1.0"/>
<text x="178.8" y="255.91199999999998" font-size="6.4" stroke="#1e1e1e" stroke-width="0.3" text-anchor="middle" font-weight="bold" letter-spacing="0.95">**</text>
<text x="230" y="248" font-size="8.4" stroke="#1e1e1e" stroke-width="0.22" text-anchor="middle" font-style="italic">IL6</text>
<line x1="216.5" y1="253.0" x2="216.5" y2="325.5" stroke="#1e1e1e" stroke-width="1.0"/>
<line x1="213.3" y1="253.5" x2="216.5" y2="253.5" stroke="#1e1e1e" stroke-width="1.0"/>
<text x="209.5" y="257.152" font-size="8.2" stroke="#1e1e1e" stroke-width="0.22" text-anchor="end">4</text>
<line x1="213.3" y1="271.5" x2="216.5" y2="271.5" stroke="#1e1e1e" stroke-width="1.0"/>
<text x="209.5" y="275.152" font-size="8.2" stroke="#1e1e1e" stroke-width="0.22" text-anchor="end">3</text>
<line x1="213.3" y1="289.5" x2="216.5" y2="289.5" stroke="#1e1e1e" stroke-width="1.0"/>
<text x="209.5" y="293.152" font-size="8.2" stroke="#1e1e1e" stroke-width="0.22" text-anchor="end">2</text>
<line x1="213.3" y1="307.5" x2="216.5" y2="307.5" stroke="#1e1e1e" stroke-width="1.0"/>
<text x="209.5" y="311.152" font-size="8.2" stroke="#1e1e1e" stroke-width="0.22" text-anchor="end">1</text>
<line x1="213.3" y1="325.5" x2="216.5" y2="325.5" stroke="#1e1e1e" stroke-width="1.0"/>
<text x="209.5" y="329.152" font-size="8.2" stroke="#1e1e1e" stroke-width="0.22" text-anchor="end">0</text>
<line x1="216.0" y1="325.5" x2="245" y2="325.5" stroke="#1e1e1e" stroke-width="1.0"/>
<line x1="224.5" y1="325.5" x2="224.5" y2="328.1" stroke="#1e1e1e" stroke-width="1.0"/>
<line x1="238.5" y1="325.5" x2="238.5" y2="328.1" stroke="#1e1e1e" stroke-width="1.0"/>
<rect x="219.5" y="279.5" width="10.0" height="45.5" fill="#fff"/>
<path d="M219.5 325.0V279.5H229.5V325.0" fill="none" stroke="#1e1e1e" stroke-width="1.0"/>
<line x1="224.2" y1="271.6" x2="224.2" y2="287" stroke="#1e1e1e" stroke-width="0.8"/>
<line x1="222.6" y1="271.6" x2="225.79999999999998" y2="271.6" stroke="#1e1e1e" stroke-width="0.8"/>
<line x1="222.6" y1="287" x2="225.79999999999998" y2="287" stroke="#1e1e1e" stroke-width="0.8"/>
<circle cx="221.5" cy="263.2" r="1.4" fill="#1e1e1e"/>
<circle cx="226.8" cy="264.8" r="1.4" fill="#1e1e1e"/>
<circle cx="223.8" cy="288.6" r="1.4" fill="#1e1e1e"/>
<circle cx="223.8" cy="307.3" r="1.4" fill="#1e1e1e"/>
<path d="M224.5 271.0L226.2 274.06L222.8 274.06Z" fill="#1e1e1e"/>
<rect x="233.5" y="281.5" width="9.0" height="43.5" fill="#fff"/>
<path d="M233.5 325.0V281.5H242.5V325.0" fill="none" stroke="#c4444f" stroke-width="1.0"/>
<line x1="238.2" y1="274.5" x2="238.2" y2="287.5" stroke="#c4444f" stroke-width="0.8"/>
<line x1="236.6" y1="274.5" x2="239.79999999999998" y2="274.5" stroke="#c4444f" stroke-width="0.8"/>
<line x1="236.6" y1="287.5" x2="239.79999999999998" y2="287.5" stroke="#c4444f" stroke-width="0.8"/>
<path d="M238.1 264.7L239.29999999999998 266.85999999999996L236.9 266.85999999999996Z" fill="#c0272d"/>
<path d="M235.9 272.7L237.1 274.85999999999996L234.70000000000002 274.85999999999996Z" fill="#c0272d"/>
<path d="M240.4 272.7L241.6 274.85999999999996L239.20000000000002 274.85999999999996Z" fill="#c0272d"/>
<path d="M238.1 290.8L239.29999999999998 292.96L236.9 292.96Z" fill="#c0272d"/>
<path d="M238.1 300.6L239.29999999999998 302.76L236.9 302.76Z" fill="#c0272d"/>
<text x="283.5" y="248" font-size="8.4" stroke="#1e1e1e" stroke-width="0.22" text-anchor="middle" font-style="italic">PIM2</text>
<line x1="270.5" y1="253.0" x2="270.5" y2="325.5" stroke="#1e1e1e" stroke-width="1.0"/>
<line x1="267.3" y1="253.5" x2="270.5" y2="253.5" stroke="#1e1e1e" stroke-width="1.0"/>
<text x="263.5" y="257.152" font-size="8.2" stroke="#1e1e1e" stroke-width="0.22" text-anchor="end">3</text>
<line x1="267.3" y1="277.5" x2="270.5" y2="277.5" stroke="#1e1e1e" stroke-width="1.0"/>
<text x="263.5" y="281.152" font-size="8.2" stroke="#1e1e1e" stroke-width="0.22" text-anchor="end">2</text>
<line x1="267.3" y1="301.5" x2="270.5" y2="301.5" stroke="#1e1e1e" stroke-width="1.0"/>
<text x="263.5" y="305.152" font-size="8.2" stroke="#1e1e1e" stroke-width="0.22" text-anchor="end">1</text>
<line x1="267.3" y1="325.5" x2="270.5" y2="325.5" stroke="#1e1e1e" stroke-width="1.0"/>
<text x="263.5" y="329.152" font-size="8.2" stroke="#1e1e1e" stroke-width="0.22" text-anchor="end">0</text>
<line x1="270.0" y1="325.5" x2="298.5" y2="325.5" stroke="#1e1e1e" stroke-width="1.0"/>
<line x1="277.5" y1="325.5" x2="277.5" y2="328.1" stroke="#1e1e1e" stroke-width="1.0"/>
<line x1="291.5" y1="325.5" x2="291.5" y2="328.1" stroke="#1e1e1e" stroke-width="1.0"/>
<rect x="273.5" y="294.5" width="9.0" height="30.5" fill="#fff"/>
<path d="M273.5 325.0V294.5H282.5V325.0" fill="none" stroke="#1e1e1e" stroke-width="1.0"/>
<line x1="277.8" y1="287.5" x2="277.8" y2="300" stroke="#1e1e1e" stroke-width="0.8"/>
<line x1="276.2" y1="287.5" x2="279.40000000000003" y2="287.5" stroke="#1e1e1e" stroke-width="0.8"/>
<line x1="276.2" y1="300" x2="279.40000000000003" y2="300" stroke="#1e1e1e" stroke-width="0.8"/>
<circle cx="277.5" cy="269.3" r="1.4" fill="#1e1e1e"/>
<circle cx="275.2" cy="301.1" r="1.4" fill="#1e1e1e"/>
<circle cx="280.5" cy="302.7" r="1.4" fill="#1e1e1e"/>
<path d="M277.5 298.4L279.1 301.28L275.9 301.28Z" fill="#1e1e1e"/>
<rect x="286.5" y="310.5" width="10.0" height="14.5" fill="#fff"/>
<path d="M286.5 325.0V310.5H296.5V325.0" fill="none" stroke="#c4444f" stroke-width="1.0"/>
<line x1="291.6" y1="308" x2="291.6" y2="312.5" stroke="#c4444f" stroke-width="0.8"/>
<line x1="290.0" y1="308" x2="293.20000000000005" y2="308" stroke="#c4444f" stroke-width="0.8"/>
<line x1="290.0" y1="312.5" x2="293.20000000000005" y2="312.5" stroke="#c4444f" stroke-width="0.8"/>
<path d="M291.1 302.90000000000003L292.3 305.06L289.90000000000003 305.06Z" fill="#c0272d"/>
<path d="M289.3 309.3L290.5 311.46L288.1 311.46Z" fill="#c0272d"/>
<path d="M292.8 308.3L294.0 310.46L291.6 310.46Z" fill="#c0272d"/>
<path d="M292 312.3L293.2 314.46L290.8 314.46Z" fill="#c0272d"/>
<path d="M294.3 309.8L295.5 311.96L293.1 311.96Z" fill="#c0272d"/>
<line x1="277.5" y1="261.5" x2="291.8" y2="261.5" stroke="#1e1e1e" stroke-width="1.0"/>
<text x="284.8" y="261.012" font-size="6.4" stroke="#1e1e1e" stroke-width="0.3" text-anchor="middle" font-weight="bold" letter-spacing="0.95">*</text>
<text x="174.0" y="333.5" font-size="8.4" stroke="#1e1e1e" stroke-width="0.22" text-anchor="end" transform="rotate(-45 174.0 333.5)">Isotype</text>
<text x="188.0" y="333.5" font-size="8.4" stroke="#1e1e1e" stroke-width="0.22" text-anchor="end" transform="rotate(-45 188.0 333.5)">αIFNγ</text>
<text x="226.0" y="333.5" font-size="8.4" stroke="#1e1e1e" stroke-width="0.22" text-anchor="end" transform="rotate(-45 226.0 333.5)">Isotype</text>
<text x="240.0" y="333.5" font-size="8.4" stroke="#1e1e1e" stroke-width="0.22" text-anchor="end" transform="rotate(-45 240.0 333.5)">αIFNγ</text>
<text x="280.0" y="333.5" font-size="8.4" stroke="#1e1e1e" stroke-width="0.22" text-anchor="end" transform="rotate(-45 280.0 333.5)">Isotype</text>
<text x="294.0" y="333.5" font-size="8.4" stroke="#1e1e1e" stroke-width="0.22" text-anchor="end" transform="rotate(-45 294.0 333.5)">αIFNγ</text>
<g transform="translate(335.5 170.5) scale(1.0 1.07)"><path d="M-13.7 1.2 C-10.5 1.2 -8.5 -3.4 -4.5 -3.9 C-1.5 -4.3 1.5 -4 3.3 -0.8" fill="none" stroke="#151515" stroke-width="1.3" stroke-linecap="round"/><path d="M-5.8 9.5 C-6 3 -1 -0.3 4.5 -0.3 C10 -0.3 15 3 14.8 9.5 C14.8 13 13.5 15.5 11.5 17.5 C10 20 8 22.3 4.5 22.5 C1 22.3 -1 20 -2.5 17.5 C-4.5 15.5 -5.8 13 -5.8 9.5 Z" fill="#0c0c0c"/><ellipse cx="-1.2" cy="12" rx="4.2" ry="3.6" fill="#3e3e3e"/><ellipse cx="10.2" cy="12" rx="4.2" ry="3.6" fill="#3e3e3e"/><ellipse cx="-1.2" cy="12.6" rx="2.6" ry="2.2" fill="#2a2a2a"/><ellipse cx="10.2" cy="12.6" rx="2.6" ry="2.2" fill="#2a2a2a"/><path d="M1.5 13 Q4.5 11 7.5 13 L6.5 20 Q4.5 22 2.5 20 Z" fill="#050505"/><path d="M2 5 L9 2.3" stroke="#a52a12" stroke-width="1.6" stroke-linecap="round" opacity="0.85"/><ellipse cx="0.9" cy="4.9" rx="4.3" ry="3.6" fill="url(#spot)"/><path d="M-2 20.5 l-2.5 1.2 M11 20.5 l2.5 1.2 M-1.5 22 l-3 0.6 M10.5 22 l3 .6" stroke="#c8c8c8" stroke-width="0.4"/></g>
<text x="349.5" y="154" font-size="8.4" stroke="#1e1e1e" stroke-width="0.22" text-anchor="middle">Hepa1-6 cells</text>
<text x="349.5" y="164" font-size="8.4" stroke="#1e1e1e" stroke-width="0.22" text-anchor="middle">inoculation</text>
<line x1="357.5" y1="177.3" x2="458" y2="177.3" stroke="#1e1e1e" stroke-width="0.9"/>
<path d="M456 175 L462 177.3 L456 179.6 Z" fill="#111"/>
<line x1="358" y1="177.3" x2="358" y2="180.3" stroke="#1e1e1e" stroke-width="0.8"/>
<line x1="412.5" y1="177.3" x2="412.5" y2="180.3" stroke="#1e1e1e" stroke-width="0.8"/>
<line x1="440.8" y1="177.3" x2="440.8" y2="180.3" stroke="#1e1e1e" stroke-width="0.8"/>
<text x="358" y="190" font-size="8.4" stroke="#1e1e1e" stroke-width="0.22" text-anchor="middle">0</text>
<text x="412.5" y="190" font-size="8.4" stroke="#1e1e1e" stroke-width="0.22" text-anchor="middle">8</text>
<text x="440.8" y="190" font-size="8.4" stroke="#1e1e1e" stroke-width="0.22" text-anchor="middle">11</text>
<line x1="412.5" y1="168" x2="412.5" y2="175.5" stroke="#e07a7a" stroke-width="0.8"/>
<path d="M410.9 173 L412.5 176 L414.1 173" fill="none" stroke="#e07a7a" stroke-width="0.8"/>
<line x1="440.8" y1="168" x2="440.8" y2="175.5" stroke="#444" stroke-width="0.8"/>
<path d="M439.2 173 L440.8 176 L442.4 173" fill="none" stroke="#444" stroke-width="0.8"/>
<text x="448.5" y="165" font-size="8.4" stroke="#1e1e1e" stroke-width="0.22" text-anchor="middle">Analysis</text>
<text x="496.5" y="161.5" font-size="8.4" stroke="#1e1e1e" stroke-width="0.22" text-anchor="middle">(10 mg/kg)</text>
<line x1="477.3" y1="167.5" x2="477.3" y2="175" stroke="#e07a7a" stroke-width="0.8"/>
<path d="M475.7 172.5 L477.3 175.5 L478.9 172.5" fill="none" stroke="#e07a7a" stroke-width="0.8"/>
<text x="480.6" y="175.2" font-size="8.4" textLength="33.2" lengthAdjust="spacingAndGlyphs" stroke="#1e1e1e" stroke-width="0.22">αIL1β Ab</text>
<text x="485.5" y="190" font-size="8.4" stroke="#1e1e1e" stroke-width="0.22" text-anchor="middle">Days after tumor</text>
<text x="485.5" y="200" font-size="8.4" stroke="#1e1e1e" stroke-width="0.22" text-anchor="middle">inoculation</text>
<text x="360" y="225.6" font-size="8.2" stroke="#9a5a38" stroke-width="0.1" text-anchor="middle" fill="#9a5a38">PIM2</text>
<rect x="338" y="231.5" width="45" height="44.8" fill="#fff" filter="url(#ihc1)"/>
<rect x="338" y="231.5" width="45" height="44.8" fill="url(#pale)"/>
<rect x="338" y="281" width="44" height="44.6" fill="#fff" filter="url(#ihc2)"/>
<line x1="365.5" y1="321.8" x2="377.8" y2="321.8" stroke="#111" stroke-width="1.2"/>
<text x="332.3" y="254" font-size="8.4" stroke="#1e1e1e" stroke-width="0.22" text-anchor="middle" transform="rotate(-90 332.3 254)">Isotype</text>
<text x="332.3" y="303" font-size="8.4" stroke="#1e1e1e" stroke-width="0.22" text-anchor="middle" transform="rotate(-90 332.3 303)">αIL1β Ab</text>
<text x="453" y="225.5" font-size="8.4" stroke="#1e1e1e" stroke-width="0.22" text-anchor="middle" font-style="italic">PIM2</text>
<text x="418" y="267.5" font-size="8.4" stroke="#1e1e1e" stroke-width="0.22" text-anchor="middle" transform="rotate(-90 418 267.5)">Relative fold change</text>
<line x1="435.5" y1="231.0" x2="435.5" y2="303.5" stroke="#1e1e1e" stroke-width="1.0"/>
<line x1="432.3" y1="231.5" x2="435.5" y2="231.5" stroke="#1e1e1e" stroke-width="1.0"/>
<text x="428.5" y="235.152" font-size="8.2" stroke="#1e1e1e" stroke-width="0.22" text-anchor="end">4</text>
<line x1="432.3" y1="249.5" x2="435.5" y2="249.5" stroke="#1e1e1e" stroke-width="1.0"/>
<text x="428.5" y="253.152" font-size="8.2" stroke="#1e1e1e" stroke-width="0.22" text-anchor="end">3</text>
<line x1="432.3" y1="267.5" x2="435.5" y2="267.5" stroke="#1e1e1e" stroke-width="1.0"/>
<text x="428.5" y="271.152" font-size="8.2" stroke="#1e1e1e" stroke-width="0.22" text-anchor="end">2</text>
<line x1="432.3" y1="285.5" x2="435.5" y2="285.5" stroke="#1e1e1e" stroke-width="1.0"/>
<text x="428.5" y="289.152" font-size="8.2" stroke="#1e1e1e" stroke-width="0.22" text-anchor="end">1</text>
<line x1="432.3" y1="303.5" x2="435.5" y2="303.5" stroke="#1e1e1e" stroke-width="1.0"/>
<text x="428.5" y="307.152" font-size="8.2" stroke="#1e1e1e" stroke-width="0.22" text-anchor="end">0</text>
<line x1="435.0" y1="303.5" x2="472.5" y2="303.5" stroke="#1e1e1e" stroke-width="1.0"/>
<line x1="445.5" y1="303.5" x2="445.5" y2="306.1" stroke="#1e1e1e" stroke-width="1.0"/>
<line x1="463.5" y1="303.5" x2="463.5" y2="306.1" stroke="#1e1e1e" stroke-width="1.0"/>
<rect x="439.5" y="267.5" width="12.0" height="35.5" fill="#fff"/>
<path d="M439.5 303.0V267.5H451.5V303.0" fill="none" stroke="#1e1e1e" stroke-width="1.0"/>
<line x1="445.5" y1="261.8" x2="445.5" y2="274" stroke="#1e1e1e" stroke-width="0.8"/>
<line x1="443.9" y1="261.8" x2="447.1" y2="261.8" stroke="#1e1e1e" stroke-width="0.8"/>
<line x1="443.9" y1="274" x2="447.1" y2="274" stroke="#1e1e1e" stroke-width="0.8"/>
<circle cx="445.5" cy="250.7" r="1.45" fill="#1e1e1e"/>
<circle cx="445.5" cy="258.7" r="1.45" fill="#1e1e1e"/>
<circle cx="442.5" cy="272.2" r="1.45" fill="#1e1e1e"/>
<circle cx="448.1" cy="272.2" r="1.45" fill="#1e1e1e"/>
<circle cx="445.5" cy="285.3" r="1.45" fill="#1e1e1e"/>
<rect x="457.5" y="287.5" width="12.0" height="15.5" fill="#fff"/>
<path d="M457.5 303.0V287.5H469.5V303.0" fill="none" stroke="#c4444f" stroke-width="1.0"/>
<line x1="463.2" y1="285.5" x2="463.2" y2="290.5" stroke="#c4444f" stroke-width="0.8"/>
<line x1="461.59999999999997" y1="285.5" x2="464.8" y2="285.5" stroke="#c4444f" stroke-width="0.8"/>
<line x1="461.59999999999997" y1="290.5" x2="464.8" y2="290.5" stroke="#c4444f" stroke-width="0.8"/>
<path d="M459.8 282.1L461.0 284.26L458.6 284.26Z" fill="#c0272d"/>
<path d="M463.2 283.7L464.4 285.85999999999996L462.0 285.85999999999996Z" fill="#c0272d"/>
<path d="M466.6 283.7L467.8 285.85999999999996L465.40000000000003 285.85999999999996Z" fill="#c0272d"/>
<path d="M462.2 289.1L463.4 291.26L461.0 291.26Z" fill="#c0272d"/>
<path d="M465.2 291.3L466.4 293.46L464.0 293.46Z" fill="#c0272d"/>
<line x1="445.8" y1="244.5" x2="463" y2="244.5" stroke="#1e1e1e" stroke-width="1.0"/>
<text x="455.0" y="243.712" font-size="6.4" stroke="#1e1e1e" stroke-width="0.3" text-anchor="middle" font-weight="bold" letter-spacing="0.95">*</text>
<text x="448.5" y="311" font-size="8.4" stroke="#1e1e1e" stroke-width="0.22" text-anchor="end" transform="rotate(-45 448.5 311)">Isotype</text>
<text x="466.5" y="311" font-size="8.4" stroke="#1e1e1e" stroke-width="0.22" text-anchor="end" transform="rotate(-45 466.5 311)">αIL1β</text>
</svg></div></body></html>
